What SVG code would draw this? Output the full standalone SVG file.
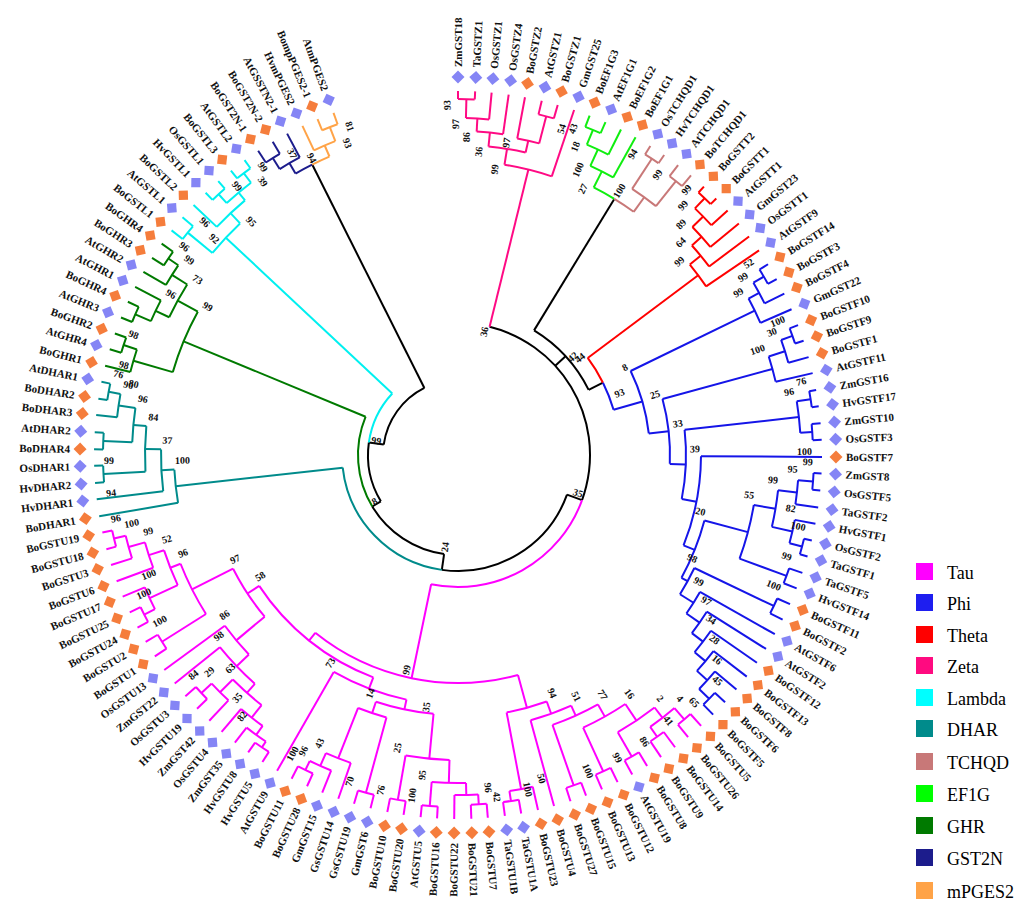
<svg xmlns="http://www.w3.org/2000/svg" xmlns:xlink="http://www.w3.org/1999/xlink" width="1024" height="915" viewBox="0 0 1024 915">
<style>
.c path,.c circle{fill:none;stroke-width:2}
.k{stroke:#000}.z{stroke:#FF0A84}.e{stroke:#10EE10}.t{stroke:#C87878}.h{stroke:#FF0000}.f{stroke:#1515E8}.u{stroke:#FF00FF}.d{stroke:#008B8B}.g{stroke:#007A00}.l{stroke:#00F0F0}.n{stroke:#1C1C8C}.m{stroke:#FFA347}
.p{fill:#8585F5}.o{fill:#F57D3C}
.lv text{font:bold 11px "Liberation Serif",serif;fill:#111;dominant-baseline:central}
.lv .r{text-anchor:end}
.s text{font:bold 10px "Liberation Serif",serif;fill:#111;dominant-baseline:central;text-anchor:end}
.s text.q{text-anchor:start}
.lg text{font:18px "Liberation Serif",serif;fill:#000}
</style>
<defs><rect id="mk" x="-4.6" y="-4.6" width="9.2" height="9.2" transform="rotate(45)"/></defs>
<rect width="1024" height="915" fill="#fff"/>
<g transform="translate(458,455)">
<g id="connectors" class="c">
<g class="k">
<circle r="132" pathLength="360" stroke-dasharray="96.15 400" transform="rotate(-76.15)"/>
<path d="M132 0H146" transform="rotate(-42.55)"/>
<circle r="146" pathLength="360" stroke-dasharray="32.1 400" transform="rotate(-58.6)"/>
<path d="M146 0H300" transform="rotate(-58.6)"/>
<path d="M146 0H162" transform="rotate(-26.5)"/>
<path d="M116 0H132" transform="rotate(20)"/>
<circle r="116" pathLength="360" stroke-dasharray="78 400" transform="rotate(20)"/>
<path d="M100 0H116" transform="rotate(98)"/>
<circle r="100" pathLength="360" stroke-dasharray="51 400" transform="rotate(98)"/>
<path d="M90 0H100" transform="rotate(149)"/>
<circle r="90" pathLength="360" stroke-dasharray="39 400" transform="rotate(149)"/>
<path d="M75 0H90" transform="rotate(188)"/>
<circle r="75" pathLength="360" stroke-dasharray="55.35 400" transform="rotate(188)"/>
<path d="M75 0H325" transform="rotate(243.35)"/>
</g>
<g class="z">
<path d="M132 0H294" transform="rotate(-76.15)"/>
<circle r="356" pathLength="360" stroke-dasharray="2.7 400" transform="rotate(-90)"/>
<path d="M356 0H364" transform="rotate(-90)"/><path d="M356 0H364" transform="rotate(-87.3)"/>
<circle r="337" pathLength="360" stroke-dasharray="3.95 400" transform="rotate(-88.65)"/>
<path d="M337 0H356" transform="rotate(-88.65)"/><path d="M337 0H364" transform="rotate(-84.7)"/>
<circle r="324" pathLength="360" stroke-dasharray="4.7 400" transform="rotate(-86.7)"/>
<path d="M324 0H337" transform="rotate(-86.7)"/><path d="M324 0H364" transform="rotate(-82)"/>
<circle r="350" pathLength="360" stroke-dasharray="2.6 400" transform="rotate(-76.7)"/>
<path d="M350 0H364" transform="rotate(-76.7)"/><path d="M350 0H364" transform="rotate(-74.1)"/>
<circle r="322" pathLength="360" stroke-dasharray="4 400" transform="rotate(-79.4)"/>
<path d="M322 0H364" transform="rotate(-79.4)"/><path d="M322 0H350" transform="rotate(-75.4)"/>
<circle r="310" pathLength="360" stroke-dasharray="6.95 400" transform="rotate(-84.35)"/>
<path d="M310 0H324" transform="rotate(-84.35)"/><path d="M310 0H322" transform="rotate(-77.4)"/>
<circle r="294" pathLength="360" stroke-dasharray="9.5 400" transform="rotate(-80.9)"/>
<path d="M294 0H310" transform="rotate(-80.9)"/><path d="M294 0H364" transform="rotate(-71.4)"/>
</g>
<g class="e">
<circle r="352" pathLength="360" stroke-dasharray="2.7 400" transform="rotate(-68.8)"/>
<path d="M352 0H364" transform="rotate(-68.8)"/><path d="M352 0H364" transform="rotate(-66.1)"/>
<circle r="336" pathLength="360" stroke-dasharray="4.05 400" transform="rotate(-67.45)"/>
<path d="M336 0H352" transform="rotate(-67.45)"/><path d="M336 0H364" transform="rotate(-63.4)"/>
<circle r="318" pathLength="360" stroke-dasharray="4.6 400" transform="rotate(-65.4)"/>
<path d="M318 0H336" transform="rotate(-65.4)"/><path d="M318 0H364" transform="rotate(-60.8)"/>
<circle r="300" pathLength="360" stroke-dasharray="4.5 400" transform="rotate(-63.1)"/>
<path d="M300 0H318" transform="rotate(-63.1)"/>
</g>
<g class="t">
<circle r="354" pathLength="360" stroke-dasharray="2.6 400" transform="rotate(-58.1)"/>
<path d="M354 0H364" transform="rotate(-58.1)"/><path d="M354 0H364" transform="rotate(-55.5)"/>
<circle r="350" pathLength="360" stroke-dasharray="2.6 400" transform="rotate(-52.8)"/>
<path d="M350 0H364" transform="rotate(-52.8)"/><path d="M350 0H364" transform="rotate(-50.2)"/>
<circle r="318" pathLength="360" stroke-dasharray="5.3 400" transform="rotate(-56.8)"/>
<path d="M318 0H354" transform="rotate(-56.8)"/><path d="M318 0H350" transform="rotate(-51.5)"/>
<circle r="300" pathLength="360" stroke-dasharray="4.45 400" transform="rotate(-58.6)"/>
<path d="M300 0H318" transform="rotate(-54.15)"/>
</g>
<g class="h">
<circle r="162" pathLength="360" stroke-dasharray="10.3 400" transform="rotate(-36.8)"/>
<path d="M162 0H300" transform="rotate(-36.8)"/>
<circle r="356" pathLength="360" stroke-dasharray="2.7 400" transform="rotate(-47.5)"/>
<path d="M356 0H364" transform="rotate(-47.5)"/><path d="M356 0H364" transform="rotate(-44.8)"/>
<circle r="342" pathLength="360" stroke-dasharray="3.95 400" transform="rotate(-46.15)"/>
<path d="M342 0H356" transform="rotate(-46.15)"/><path d="M342 0H364" transform="rotate(-42.2)"/>
<circle r="327" pathLength="360" stroke-dasharray="4.7 400" transform="rotate(-44.2)"/>
<path d="M327 0H342" transform="rotate(-44.2)"/><path d="M327 0H364" transform="rotate(-39.5)"/>
<circle r="314" pathLength="360" stroke-dasharray="4.95 400" transform="rotate(-41.85)"/>
<path d="M314 0H327" transform="rotate(-41.85)"/><path d="M314 0H364" transform="rotate(-36.9)"/>
<circle r="300" pathLength="360" stroke-dasharray="5.2 400" transform="rotate(-39.4)"/>
<path d="M300 0H314" transform="rotate(-39.4)"/><path d="M300 0H364" transform="rotate(-34.2)"/>
</g>
<g class="f">
<circle r="162" pathLength="360" stroke-dasharray="10.3 400" transform="rotate(-26.5)"/>
<path d="M162 0H192" transform="rotate(-16.2)"/>
<circle r="192" pathLength="360" stroke-dasharray="19.5 400" transform="rotate(-25.95)"/>
<path d="M192 0H330" transform="rotate(-25.95)"/><path d="M192 0H212" transform="rotate(-6.45)"/>
<circle r="212" pathLength="360" stroke-dasharray="17.7 400" transform="rotate(-15.3)"/>
<path d="M212 0H326" transform="rotate(-15.3)"/><path d="M212 0H228" transform="rotate(2.4)"/>
<circle r="228" pathLength="360" stroke-dasharray="17.45 400" transform="rotate(-6.35)"/>
<path d="M228 0H343" transform="rotate(-6.35)"/><path d="M228 0H243" transform="rotate(11.1)"/>
<circle r="243" pathLength="360" stroke-dasharray="21.55 400" transform="rotate(0.3)"/>
<path d="M243 0H364" transform="rotate(0.3)"/><path d="M243 0H255" transform="rotate(21.85)"/>
<circle r="255" pathLength="360" stroke-dasharray="13.9 400" transform="rotate(14.9)"/>
<path d="M255 0H300" transform="rotate(14.9)"/><path d="M255 0H262" transform="rotate(28.8)"/>
<circle r="354" pathLength="360" stroke-dasharray="2.7 400" transform="rotate(-31.6)"/>
<path d="M354 0H364" transform="rotate(-31.6)"/><path d="M354 0H364" transform="rotate(-28.9)"/>
<circle r="342" pathLength="360" stroke-dasharray="3.95 400" transform="rotate(-30.25)"/>
<path d="M342 0H354" transform="rotate(-30.25)"/><path d="M342 0H364" transform="rotate(-26.3)"/>
<circle r="330" pathLength="360" stroke-dasharray="4.7 400" transform="rotate(-28.3)"/>
<path d="M330 0H342" transform="rotate(-28.3)"/><path d="M330 0H364" transform="rotate(-23.6)"/>
<circle r="355" pathLength="360" stroke-dasharray="2.6 400" transform="rotate(-20.9)"/>
<path d="M355 0H364" transform="rotate(-20.9)"/><path d="M355 0H364" transform="rotate(-18.3)"/>
<circle r="343" pathLength="360" stroke-dasharray="4 400" transform="rotate(-19.6)"/>
<path d="M343 0H355" transform="rotate(-19.6)"/><path d="M343 0H364" transform="rotate(-15.6)"/>
<circle r="326" pathLength="360" stroke-dasharray="4.6 400" transform="rotate(-17.6)"/>
<path d="M326 0H343" transform="rotate(-17.6)"/><path d="M326 0H364" transform="rotate(-13)"/>
<circle r="357" pathLength="360" stroke-dasharray="2.6 400" transform="rotate(-10.3)"/>
<path d="M357 0H364" transform="rotate(-10.3)"/><path d="M357 0H364" transform="rotate(-7.7)"/>
<circle r="355" pathLength="360" stroke-dasharray="2.6 400" transform="rotate(-5)"/>
<path d="M355 0H364" transform="rotate(-5)"/><path d="M355 0H364" transform="rotate(-2.4)"/>
<circle r="343" pathLength="360" stroke-dasharray="5.3 400" transform="rotate(-9)"/>
<path d="M343 0H357" transform="rotate(-9)"/><path d="M343 0H355" transform="rotate(-3.7)"/>
<circle r="356" pathLength="360" stroke-dasharray="2.7 400" transform="rotate(2.9)"/>
<path d="M356 0H364" transform="rotate(2.9)"/><path d="M356 0H364" transform="rotate(5.6)"/>
<circle r="341" pathLength="360" stroke-dasharray="4.05 400" transform="rotate(4.25)"/>
<path d="M341 0H356" transform="rotate(4.25)"/><path d="M341 0H364" transform="rotate(8.3)"/>
<circle r="356" pathLength="360" stroke-dasharray="2.6 400" transform="rotate(13.6)"/>
<path d="M356 0H364" transform="rotate(13.6)"/><path d="M356 0H364" transform="rotate(16.2)"/>
<circle r="343" pathLength="360" stroke-dasharray="4 400" transform="rotate(10.9)"/>
<path d="M343 0H364" transform="rotate(10.9)"/><path d="M343 0H356" transform="rotate(14.9)"/>
<circle r="322" pathLength="360" stroke-dasharray="6.6 400" transform="rotate(6.3)"/>
<path d="M322 0H341" transform="rotate(6.3)"/><path d="M322 0H343" transform="rotate(12.9)"/>
<circle r="350" pathLength="360" stroke-dasharray="2.6 400" transform="rotate(18.9)"/>
<path d="M350 0H364" transform="rotate(18.9)"/><path d="M350 0H364" transform="rotate(21.5)"/>
<circle r="300" pathLength="360" stroke-dasharray="10.6 400" transform="rotate(9.6)"/>
<path d="M300 0H322" transform="rotate(9.6)"/><path d="M300 0H350" transform="rotate(20.2)"/>
<circle r="350" pathLength="360" stroke-dasharray="2.7 400" transform="rotate(24.2)"/>
<path d="M350 0H364" transform="rotate(24.2)"/><path d="M350 0H364" transform="rotate(26.9)"/>
<circle r="350" pathLength="360" stroke-dasharray="2.7 400" transform="rotate(42.8)"/>
<path d="M350 0H364" transform="rotate(42.8)"/><path d="M350 0H364" transform="rotate(45.5)"/>
<circle r="336" pathLength="360" stroke-dasharray="4.05 400" transform="rotate(40.1)"/>
<path d="M336 0H364" transform="rotate(40.1)"/><path d="M336 0H350" transform="rotate(44.15)"/>
<circle r="322" pathLength="360" stroke-dasharray="4.6 400" transform="rotate(37.5)"/>
<path d="M322 0H364" transform="rotate(37.5)"/><path d="M322 0H336" transform="rotate(42.1)"/>
<circle r="308" pathLength="360" stroke-dasharray="5 400" transform="rotate(34.8)"/>
<path d="M308 0H364" transform="rotate(34.8)"/><path d="M308 0H322" transform="rotate(39.8)"/>
<circle r="294" pathLength="360" stroke-dasharray="5.1 400" transform="rotate(32.2)"/>
<path d="M294 0H364" transform="rotate(32.2)"/><path d="M294 0H308" transform="rotate(37.3)"/>
<circle r="278" pathLength="360" stroke-dasharray="5.25 400" transform="rotate(29.5)"/>
<path d="M278 0H364" transform="rotate(29.5)"/><path d="M278 0H294" transform="rotate(34.75)"/>
<circle r="262" pathLength="360" stroke-dasharray="6.55 400" transform="rotate(25.55)"/>
<path d="M262 0H350" transform="rotate(25.55)"/><path d="M262 0H278" transform="rotate(32.1)"/>
</g>
<g class="u">
<circle r="132" pathLength="360" stroke-dasharray="81.75 400" transform="rotate(20)"/>
<path d="M132 0H228" transform="rotate(101.75)"/>
<circle r="228" pathLength="360" stroke-dasharray="54 400" transform="rotate(74.75)"/>
<path d="M228 0H262" transform="rotate(74.75)"/><path d="M228 0H238" transform="rotate(128.75)"/>
<circle r="348" pathLength="360" stroke-dasharray="2.7 400" transform="rotate(48.1)"/>
<path d="M348 0H364" transform="rotate(48.1)"/><path d="M348 0H364" transform="rotate(50.8)"/>
<circle r="345" pathLength="360" stroke-dasharray="2.7 400" transform="rotate(53.4)"/>
<path d="M345 0H364" transform="rotate(53.4)"/><path d="M345 0H364" transform="rotate(56.1)"/>
<circle r="333" pathLength="360" stroke-dasharray="5.3 400" transform="rotate(49.45)"/>
<path d="M333 0H348" transform="rotate(49.45)"/><path d="M333 0H345" transform="rotate(54.75)"/>
<circle r="348" pathLength="360" stroke-dasharray="2.7 400" transform="rotate(58.7)"/>
<path d="M348 0H364" transform="rotate(58.7)"/><path d="M348 0H364" transform="rotate(61.4)"/>
<circle r="320" pathLength="360" stroke-dasharray="7.95 400" transform="rotate(52.1)"/>
<path d="M320 0H333" transform="rotate(52.1)"/><path d="M320 0H348" transform="rotate(60.05)"/>
<circle r="348" pathLength="360" stroke-dasharray="2.7 400" transform="rotate(64)"/>
<path d="M348 0H364" transform="rotate(64)"/><path d="M348 0H364" transform="rotate(66.7)"/>
<circle r="300" pathLength="360" stroke-dasharray="9.25 400" transform="rotate(56.1)"/>
<path d="M300 0H320" transform="rotate(56.1)"/><path d="M300 0H348" transform="rotate(65.35)"/>
<circle r="350" pathLength="360" stroke-dasharray="2.6 400" transform="rotate(69.4)"/>
<path d="M350 0H364" transform="rotate(69.4)"/><path d="M350 0H364" transform="rotate(72)"/>
<circle r="286" pathLength="360" stroke-dasharray="10 400" transform="rotate(60.7)"/>
<path d="M286 0H300" transform="rotate(60.7)"/><path d="M286 0H350" transform="rotate(70.7)"/>
<circle r="275" pathLength="360" stroke-dasharray="9 400" transform="rotate(65.7)"/>
<path d="M275 0H286" transform="rotate(65.7)"/><path d="M275 0H364" transform="rotate(74.7)"/>
<circle r="350" pathLength="360" stroke-dasharray="2.6 400" transform="rotate(80)"/>
<path d="M350 0H364" transform="rotate(80)"/><path d="M350 0H364" transform="rotate(82.6)"/>
<circle r="340" pathLength="360" stroke-dasharray="4 400" transform="rotate(77.3)"/>
<path d="M340 0H364" transform="rotate(77.3)"/><path d="M340 0H350" transform="rotate(81.3)"/>
<circle r="262" pathLength="360" stroke-dasharray="9.1 400" transform="rotate(70.2)"/>
<path d="M262 0H275" transform="rotate(70.2)"/><path d="M262 0H340" transform="rotate(79.3)"/>
<circle r="350" pathLength="360" stroke-dasharray="2.6 400" transform="rotate(85.3)"/>
<path d="M350 0H364" transform="rotate(85.3)"/><path d="M350 0H364" transform="rotate(87.9)"/>
<circle r="340" pathLength="360" stroke-dasharray="4 400" transform="rotate(86.6)"/>
<path d="M340 0H350" transform="rotate(86.6)"/><path d="M340 0H364" transform="rotate(90.6)"/>
<circle r="352" pathLength="360" stroke-dasharray="2.6 400" transform="rotate(93.3)"/>
<path d="M352 0H364" transform="rotate(93.3)"/><path d="M352 0H364" transform="rotate(95.9)"/>
<circle r="328" pathLength="360" stroke-dasharray="6 400" transform="rotate(88.6)"/>
<path d="M328 0H340" transform="rotate(88.6)"/><path d="M328 0H352" transform="rotate(94.6)"/>
<circle r="350" pathLength="360" stroke-dasharray="2.6 400" transform="rotate(98.6)"/>
<path d="M350 0H364" transform="rotate(98.6)"/><path d="M350 0H364" transform="rotate(101.2)"/>
<circle r="305" pathLength="360" stroke-dasharray="8.3 400" transform="rotate(91.6)"/>
<path d="M305 0H328" transform="rotate(91.6)"/><path d="M305 0H350" transform="rotate(99.9)"/>
<circle r="350" pathLength="360" stroke-dasharray="2.7 400" transform="rotate(103.9)"/>
<path d="M350 0H364" transform="rotate(103.9)"/><path d="M350 0H364" transform="rotate(106.6)"/>
<circle r="350" pathLength="360" stroke-dasharray="2.7 400" transform="rotate(114.5)"/>
<path d="M350 0H364" transform="rotate(114.5)"/><path d="M350 0H364" transform="rotate(117.2)"/>
<circle r="340" pathLength="360" stroke-dasharray="3.95 400" transform="rotate(111.9)"/>
<path d="M340 0H364" transform="rotate(111.9)"/><path d="M340 0H350" transform="rotate(115.85)"/>
<circle r="326" pathLength="360" stroke-dasharray="4.7 400" transform="rotate(109.2)"/>
<path d="M326 0H364" transform="rotate(109.2)"/><path d="M326 0H340" transform="rotate(113.9)"/>
<circle r="272" pathLength="360" stroke-dasharray="6.3 400" transform="rotate(105.25)"/>
<path d="M272 0H350" transform="rotate(105.25)"/><path d="M272 0H326" transform="rotate(111.55)"/>
<circle r="260" pathLength="360" stroke-dasharray="13 400" transform="rotate(95.4)"/>
<path d="M260 0H305" transform="rotate(95.4)"/><path d="M260 0H272" transform="rotate(108.4)"/>
<circle r="250" pathLength="360" stroke-dasharray="17.9 400" transform="rotate(101.9)"/>
<path d="M250 0H260" transform="rotate(101.9)"/><path d="M250 0H364" transform="rotate(119.8)"/>
<circle r="350" pathLength="360" stroke-dasharray="2.7 400" transform="rotate(135.8)"/>
<path d="M350 0H364" transform="rotate(135.8)"/><path d="M350 0H364" transform="rotate(138.5)"/>
<circle r="336" pathLength="360" stroke-dasharray="4.05 400" transform="rotate(133.1)"/>
<path d="M336 0H364" transform="rotate(133.1)"/><path d="M336 0H350" transform="rotate(137.15)"/>
<circle r="352" pathLength="360" stroke-dasharray="2.7 400" transform="rotate(122.5)"/>
<path d="M352 0H364" transform="rotate(122.5)"/><path d="M352 0H364" transform="rotate(125.2)"/>
<circle r="345" pathLength="360" stroke-dasharray="3.95 400" transform="rotate(123.85)"/>
<path d="M345 0H352" transform="rotate(123.85)"/><path d="M345 0H364" transform="rotate(127.8)"/>
<circle r="334" pathLength="360" stroke-dasharray="4.7 400" transform="rotate(125.8)"/>
<path d="M334 0H345" transform="rotate(125.8)"/><path d="M334 0H364" transform="rotate(130.5)"/>
<circle r="318" pathLength="360" stroke-dasharray="6.95 400" transform="rotate(128.15)"/>
<path d="M318 0H334" transform="rotate(128.15)"/><path d="M318 0H336" transform="rotate(135.1)"/>
<circle r="306" pathLength="360" stroke-dasharray="9.5 400" transform="rotate(131.6)"/>
<path d="M306 0H318" transform="rotate(131.6)"/><path d="M306 0H364" transform="rotate(141.1)"/>
<circle r="289" pathLength="360" stroke-dasharray="7.45 400" transform="rotate(136.35)"/>
<path d="M289 0H306" transform="rotate(136.35)"/><path d="M289 0H364" transform="rotate(143.8)"/>
<circle r="350" pathLength="360" stroke-dasharray="2.7 400" transform="rotate(146.4)"/>
<path d="M350 0H364" transform="rotate(146.4)"/><path d="M350 0H364" transform="rotate(149.1)"/>
<circle r="352" pathLength="360" stroke-dasharray="2.7 400" transform="rotate(151.7)"/>
<path d="M352 0H364" transform="rotate(151.7)"/><path d="M352 0H364" transform="rotate(154.4)"/>
<circle r="340" pathLength="360" stroke-dasharray="4.05 400" transform="rotate(153.05)"/>
<path d="M340 0H352" transform="rotate(153.05)"/><path d="M340 0H364" transform="rotate(157.1)"/>
<circle r="354" pathLength="360" stroke-dasharray="2.7 400" transform="rotate(165)"/>
<path d="M354 0H364" transform="rotate(165)"/><path d="M354 0H364" transform="rotate(167.7)"/>
<circle r="342" pathLength="360" stroke-dasharray="3.95 400" transform="rotate(162.4)"/>
<path d="M342 0H364" transform="rotate(162.4)"/><path d="M342 0H354" transform="rotate(166.35)"/>
<circle r="325" pathLength="360" stroke-dasharray="4.7 400" transform="rotate(159.7)"/>
<path d="M325 0H364" transform="rotate(159.7)"/><path d="M325 0H342" transform="rotate(164.4)"/>
<circle r="309" pathLength="360" stroke-dasharray="6.95 400" transform="rotate(155.1)"/>
<path d="M309 0H340" transform="rotate(155.1)"/><path d="M309 0H325" transform="rotate(162.05)"/>
<circle r="298" pathLength="360" stroke-dasharray="10.85 400" transform="rotate(147.75)"/>
<path d="M298 0H350" transform="rotate(147.75)"/><path d="M298 0H309" transform="rotate(158.6)"/>
<circle r="252" pathLength="360" stroke-dasharray="13.1 400" transform="rotate(140.1)"/>
<path d="M252 0H289" transform="rotate(140.1)"/><path d="M252 0H298" transform="rotate(153.2)"/>
<circle r="238" pathLength="360" stroke-dasharray="35.8 400" transform="rotate(110.85)"/>
<path d="M238 0H250" transform="rotate(110.85)"/><path d="M238 0H252" transform="rotate(146.65)"/>
</g>
<g class="d">
<circle r="116" pathLength="360" stroke-dasharray="75.7 400" transform="rotate(98)"/>
<path d="M116 0H284" transform="rotate(173.7)"/>
<circle r="355" pathLength="360" stroke-dasharray="2.7 400" transform="rotate(188.9)"/>
<path d="M355 0H364" transform="rotate(188.9)"/><path d="M355 0H364" transform="rotate(191.6)"/>
<circle r="343" pathLength="360" stroke-dasharray="3.95 400" transform="rotate(186.3)"/>
<path d="M343 0H364" transform="rotate(186.3)"/><path d="M343 0H355" transform="rotate(190.25)"/>
<circle r="355" pathLength="360" stroke-dasharray="2.7 400" transform="rotate(180.9)"/>
<path d="M355 0H364" transform="rotate(180.9)"/><path d="M355 0H364" transform="rotate(183.6)"/>
<circle r="326" pathLength="360" stroke-dasharray="6.05 400" transform="rotate(182.25)"/>
<path d="M326 0H355" transform="rotate(182.25)"/><path d="M326 0H343" transform="rotate(188.3)"/>
<circle r="355" pathLength="360" stroke-dasharray="2.7 400" transform="rotate(175.6)"/>
<path d="M355 0H364" transform="rotate(175.6)"/><path d="M355 0H364" transform="rotate(178.3)"/>
<circle r="313" pathLength="360" stroke-dasharray="8.35 400" transform="rotate(176.95)"/>
<path d="M313 0H355" transform="rotate(176.95)"/><path d="M313 0H326" transform="rotate(185.3)"/>
<circle r="297" pathLength="360" stroke-dasharray="8.1 400" transform="rotate(173)"/>
<path d="M297 0H364" transform="rotate(173)"/><path d="M297 0H313" transform="rotate(181.1)"/>
<circle r="284" pathLength="360" stroke-dasharray="6.75 400" transform="rotate(170.3)"/>
<path d="M284 0H364" transform="rotate(170.3)"/><path d="M284 0H297" transform="rotate(177.05)"/>
</g>
<g class="g">
<circle r="100" pathLength="360" stroke-dasharray="53.5 400" transform="rotate(149)"/>
<path d="M100 0H297" transform="rotate(202.5)"/>
<circle r="350" pathLength="360" stroke-dasharray="2.7 400" transform="rotate(212.8)"/>
<path d="M350 0H364" transform="rotate(212.8)"/><path d="M350 0H364" transform="rotate(215.5)"/>
<circle r="338" pathLength="360" stroke-dasharray="3.95 400" transform="rotate(210.2)"/>
<path d="M338 0H364" transform="rotate(210.2)"/><path d="M338 0H350" transform="rotate(214.15)"/>
<circle r="352" pathLength="360" stroke-dasharray="2.7 400" transform="rotate(202.2)"/>
<path d="M352 0H364" transform="rotate(202.2)"/><path d="M352 0H364" transform="rotate(204.9)"/>
<circle r="335" pathLength="360" stroke-dasharray="3.95 400" transform="rotate(203.55)"/>
<path d="M335 0H352" transform="rotate(203.55)"/><path d="M335 0H364" transform="rotate(207.5)"/>
<circle r="320" pathLength="360" stroke-dasharray="6.7 400" transform="rotate(205.5)"/>
<path d="M320 0H335" transform="rotate(205.5)"/><path d="M320 0H338" transform="rotate(212.2)"/>
<circle r="352" pathLength="360" stroke-dasharray="2.6 400" transform="rotate(196.9)"/>
<path d="M352 0H364" transform="rotate(196.9)"/><path d="M352 0H364" transform="rotate(199.5)"/>
<circle r="338" pathLength="360" stroke-dasharray="4 400" transform="rotate(194.2)"/>
<path d="M338 0H364" transform="rotate(194.2)"/><path d="M338 0H352" transform="rotate(198.2)"/>
<circle r="297" pathLength="360" stroke-dasharray="12.65 400" transform="rotate(196.2)"/>
<path d="M297 0H338" transform="rotate(196.2)"/><path d="M297 0H320" transform="rotate(208.85)"/>
</g>
<g class="l">
<circle r="90" pathLength="360" stroke-dasharray="35.1 400" transform="rotate(188)"/>
<path d="M90 0H318" transform="rotate(223.1)"/>
<circle r="350" pathLength="360" stroke-dasharray="2.7 400" transform="rotate(218.1)"/>
<path d="M350 0H364" transform="rotate(218.1)"/><path d="M350 0H364" transform="rotate(220.8)"/>
<circle r="354" pathLength="360" stroke-dasharray="2.7 400" transform="rotate(226.1)"/>
<path d="M354 0H364" transform="rotate(226.1)"/><path d="M354 0H364" transform="rotate(228.8)"/>
<circle r="354" pathLength="360" stroke-dasharray="2.7 400" transform="rotate(231.4)"/>
<path d="M354 0H364" transform="rotate(231.4)"/><path d="M354 0H364" transform="rotate(234.1)"/>
<circle r="342" pathLength="360" stroke-dasharray="5.3 400" transform="rotate(227.45)"/>
<path d="M342 0H354" transform="rotate(227.45)"/><path d="M342 0H354" transform="rotate(232.75)"/>
<circle r="332" pathLength="360" stroke-dasharray="6.7 400" transform="rotate(223.4)"/>
<path d="M332 0H364" transform="rotate(223.4)"/><path d="M332 0H342" transform="rotate(230.1)"/>
<circle r="318" pathLength="360" stroke-dasharray="7.3 400" transform="rotate(219.45)"/>
<path d="M318 0H350" transform="rotate(219.45)"/><path d="M318 0H332" transform="rotate(226.75)"/>
</g>
<g class="n">
<circle r="325" pathLength="360" stroke-dasharray="3.35 400" transform="rotate(240)"/>
<path d="M325 0H337" transform="rotate(240)"/>
<circle r="350" pathLength="360" stroke-dasharray="2.7 400" transform="rotate(236.7)"/>
<path d="M350 0H364" transform="rotate(236.7)"/><path d="M350 0H364" transform="rotate(239.4)"/>
<circle r="337" pathLength="360" stroke-dasharray="3.95 400" transform="rotate(238.05)"/>
<path d="M337 0H350" transform="rotate(238.05)"/><path d="M337 0H364" transform="rotate(242)"/>
</g>
<g class="m">
<circle r="325" pathLength="360" stroke-dasharray="3.35 400" transform="rotate(243.35)"/>
<path d="M325 0H337" transform="rotate(246.7)"/>
<circle r="352" pathLength="360" stroke-dasharray="2.7 400" transform="rotate(247.3)"/>
<path d="M352 0H364" transform="rotate(247.3)"/><path d="M352 0H364" transform="rotate(250)"/>
<circle r="337" pathLength="360" stroke-dasharray="3.95 400" transform="rotate(244.7)"/>
<path d="M337 0H364" transform="rotate(244.7)"/><path d="M337 0H352" transform="rotate(248.65)"/>
</g>
</g>
<g id="support" class="s">
<text transform="rotate(-91.8)" x="355">93</text><text transform="rotate(-90.45)" x="336">97</text><text transform="rotate(-88.5)" x="323">86</text><text transform="rotate(-72.4)" x="349" class="q" dx="-12">54</text><text transform="rotate(-81.2)" x="321">97</text><text transform="rotate(-86.1)" x="309">36</text><text transform="rotate(-82.7)" x="293">99</text>
<text transform="rotate(-70.6)" x="351">43</text><text transform="rotate(-69.2)" x="335">18</text><text transform="rotate(-67.2)" x="317">100</text><text transform="rotate(-64.9)" x="299">27</text>
<text transform="rotate(-59.9)" x="353">94</text><text transform="rotate(-54.6)" x="349">99</text><text transform="rotate(-58.6)" x="317">100</text>
<text transform="rotate(-49.3)" x="355">99</text><text transform="rotate(-48)" x="341">99</text><text transform="rotate(-46)" x="326">89</text><text transform="rotate(-43.7)" x="313">64</text><text transform="rotate(-41.2)" x="299">99</text>
<text transform="rotate(-33.4)" x="353">52</text><text transform="rotate(-32)" x="341">99</text><text transform="rotate(-30.1)" x="329">99</text>
<text transform="rotate(-22.7)" x="354">100</text><text transform="rotate(-21.4)" x="342">30</text><text transform="rotate(-19.4)" x="325">100</text>
<text transform="rotate(-12.1)" x="356">76</text><text transform="rotate(-0.6)" x="354">100</text><text transform="rotate(-10.8)" x="342">96</text>
<text transform="rotate(1.1)" x="355">99</text><text transform="rotate(2.4)" x="340">95</text><text transform="rotate(11.8)" x="355">100</text><text transform="rotate(9.1)" x="342">82</text><text transform="rotate(4.5)" x="321">99</text><text transform="rotate(17.1)" x="349">99</text><text transform="rotate(7.8)" x="299">55</text>
<text transform="rotate(22.4)" x="349">100</text><text transform="rotate(41)" x="349">45</text><text transform="rotate(38.3)" x="335">16</text><text transform="rotate(35.7)" x="321">28</text><text transform="rotate(33)" x="307">34</text><text transform="rotate(30.4)" x="293">97</text><text transform="rotate(27.7)" x="277">99</text><text transform="rotate(23.75)" x="261">98</text>
<text transform="rotate(13.1)" x="254">20</text><text transform="rotate(-1.5)" x="242">39</text><text transform="rotate(-8.15)" x="227">33</text><text transform="rotate(-17.1)" x="211">25</text><text transform="rotate(-27.75)" x="191">8</text><text transform="rotate(-21)" x="178">93</text><text transform="rotate(-38.6)" x="161">44</text><text transform="rotate(-40.5)" x="156">42</text><text transform="rotate(-78)" x="131">36</text><text transform="rotate(17.5)" x="131">35</text>
<text transform="rotate(46.3)" x="347">65</text><text transform="rotate(51.6)" x="344">41</text><text transform="rotate(47.65)" x="332">4</text><text transform="rotate(56.9)" x="347">86</text><text transform="rotate(50.3)" x="319">2</text><text transform="rotate(62.2)" x="347">99</text><text transform="rotate(54.3)" x="299">16</text><text transform="rotate(67.6)" x="349">100</text><text transform="rotate(58.9)" x="285">77</text><text transform="rotate(63.9)" x="274">51</text><text transform="rotate(78.2)" x="349">100</text><text transform="rotate(75.5)" x="339">50</text><text transform="rotate(68.4)" x="261">94</text><text transform="rotate(83.5)" x="349">42</text><text transform="rotate(84.8)" x="339">96</text>
<text transform="rotate(-82.3)" x="-351" class="q">100</text><text transform="rotate(-83.6)" x="-327" class="q">95</text><text transform="rotate(-77)" x="-349" class="q">76</text><text transform="rotate(-78.3)" x="-304" class="q">25</text><text transform="rotate(-82.8)" x="-259" class="q">35</text>
<text transform="rotate(-71.6)" x="-349" class="q">70</text><text transform="rotate(-61)" x="-349" class="q">100</text><text transform="rotate(-62.4)" x="-339" class="q">96</text><text transform="rotate(-64.3)" x="-325" class="q">43</text><text transform="rotate(-69.8)" x="-259" class="q">14</text><text transform="rotate(-58.4)" x="-249" class="q">73</text>
<text transform="rotate(-39.7)" x="-349" class="q">84</text><text transform="rotate(-41.05)" x="-335" class="q">29</text><text transform="rotate(-50.4)" x="-344" class="q">82</text><text transform="rotate(-47.7)" x="-333" class="q">35</text><text transform="rotate(-43.1)" x="-317" class="q">63</text><text transform="rotate(-37.1)" x="-305" class="q">98</text><text transform="rotate(-34.4)" x="-288" class="q">86</text>
<text transform="rotate(-29.1)" x="-349" class="q">100</text><text transform="rotate(-23.8)" x="-351" class="q">100</text><text transform="rotate(-21.1)" x="-339" class="q">100</text><text transform="rotate(-10.5)" x="-353" class="q">96</text><text transform="rotate(-11.8)" x="-341" class="q">100</text><text transform="rotate(-13.8)" x="-324" class="q">99</text><text transform="rotate(-16.1)" x="-308" class="q">52</text><text transform="rotate(-19.6)" x="-297" class="q">96</text><text transform="rotate(-25)" x="-251" class="q">97</text><text transform="rotate(-31.5)" x="-237" class="q">58</text><text transform="rotate(-76.5)" x="-226" class="q">99</text>
<text transform="rotate(13.4)" x="-354" class="q">76</text><text transform="rotate(12)" x="-342" class="q">90</text><text transform="rotate(-0.9)" x="-354" class="q">99</text><text transform="rotate(10.1)" x="-325" class="q">96</text><text transform="rotate(-6.2)" x="-354" class="q">94</text><text transform="rotate(7.1)" x="-312" class="q">84</text><text transform="rotate(2.9)" x="-296" class="q">37</text><text transform="rotate(-1.1)" x="-283" class="q">100</text>
<text transform="rotate(37.3)" x="-349" class="q">96</text><text transform="rotate(36)" x="-337" class="q">99</text><text transform="rotate(20.4)" x="-351" class="q">98</text><text transform="rotate(29.3)" x="-334" class="q">96</text><text transform="rotate(34)" x="-319" class="q">73</text><text transform="rotate(15.1)" x="-351" class="q">98</text><text transform="rotate(12.4)" x="-337" class="q">80</text><text transform="rotate(30.7)" x="-296" class="q">99</text>
<text transform="rotate(42.6)" x="-349" class="q">96</text><text transform="rotate(50.6)" x="-353" class="q">99</text><text transform="rotate(55.9)" x="-353" class="q">99</text><text transform="rotate(54.5)" x="-341" class="q">39</text><text transform="rotate(41.6)" x="-331" class="q">92</text><text transform="rotate(48.5)" x="-317" class="q">95</text>
<text transform="rotate(61.2)" x="-349" class="q">37</text><text transform="rotate(63.8)" x="-336" class="q">94</text><text transform="rotate(71.8)" x="-351" class="q">81</text><text transform="rotate(70.5)" x="-336" class="q">93</text>
<text transform="rotate(-82)" x="-98" class="q">24</text><text transform="rotate(-29)" x="-98" class="q">8</text><text transform="rotate(10)" x="-88" class="q">99</text>
</g>
<g id="leaves" class="lv">
<g id="ZmGST18" transform="rotate(-90)"><use href="#mk" x="378" class="p"/><text x="388">ZmGST18</text></g>
<g id="TaGSTZ1" transform="rotate(-87.3)"><use href="#mk" x="378" class="p"/><text x="388">TaGSTZ1</text></g>
<g id="OsGSTZ1" transform="rotate(-84.7)"><use href="#mk" x="378" class="p"/><text x="388">OsGSTZ1</text></g>
<g id="OsGSTZ4" transform="rotate(-82)"><use href="#mk" x="378" class="p"/><text x="388">OsGSTZ4</text></g>
<g id="BoGSTZ2" transform="rotate(-79.4)"><use href="#mk" x="378" class="o"/><text x="388">BoGSTZ2</text></g>
<g id="AtGSTZ1" transform="rotate(-76.7)"><use href="#mk" x="378" class="p"/><text x="388">AtGSTZ1</text></g>
<g id="BoGSTZ1" transform="rotate(-74.1)"><use href="#mk" x="378" class="o"/><text x="388">BoGSTZ1</text></g>
<g id="GmGST25" transform="rotate(-71.4)"><use href="#mk" x="378" class="p"/><text x="388">GmGST25</text></g>
<g id="BoEF1G3" transform="rotate(-68.8)"><use href="#mk" x="378" class="o"/><text x="388">BoEF1G3</text></g>
<g id="AtEF1G1" transform="rotate(-66.1)"><use href="#mk" x="378" class="p"/><text x="388">AtEF1G1</text></g>
<g id="BoEF1G2" transform="rotate(-63.4)"><use href="#mk" x="378" class="o"/><text x="388">BoEF1G2</text></g>
<g id="BoEF1G1" transform="rotate(-60.8)"><use href="#mk" x="378" class="o"/><text x="388">BoEF1G1</text></g>
<g id="OsTCHQD1" transform="rotate(-58.1)"><use href="#mk" x="378" class="p"/><text x="388">OsTCHQD1</text></g>
<g id="HvTCHQD1" transform="rotate(-55.5)"><use href="#mk" x="378" class="p"/><text x="388">HvTCHQD1</text></g>
<g id="AtTCHQD1" transform="rotate(-52.8)"><use href="#mk" x="378" class="p"/><text x="388">AtTCHQD1</text></g>
<g id="BoTCHQD1" transform="rotate(-50.2)"><use href="#mk" x="378" class="o"/><text x="388">BoTCHQD1</text></g>
<g id="BoGSTT2" transform="rotate(-47.5)"><use href="#mk" x="378" class="o"/><text x="388">BoGSTT2</text></g>
<g id="BoGSTT1" transform="rotate(-44.8)"><use href="#mk" x="378" class="o"/><text x="388">BoGSTT1</text></g>
<g id="AtGSTT1" transform="rotate(-42.2)"><use href="#mk" x="378" class="p"/><text x="388">AtGSTT1</text></g>
<g id="GmGST23" transform="rotate(-39.5)"><use href="#mk" x="378" class="p"/><text x="388">GmGST23</text></g>
<g id="OsGSTT1" transform="rotate(-36.9)"><use href="#mk" x="378" class="p"/><text x="388">OsGSTT1</text></g>
<g id="AtGSTF9" transform="rotate(-34.2)"><use href="#mk" x="378" class="p"/><text x="388">AtGSTF9</text></g>
<g id="BoGSTF14" transform="rotate(-31.6)"><use href="#mk" x="378" class="o"/><text x="388">BoGSTF14</text></g>
<g id="BoGSTF3" transform="rotate(-28.9)"><use href="#mk" x="378" class="o"/><text x="388">BoGSTF3</text></g>
<g id="BoGSTF4" transform="rotate(-26.3)"><use href="#mk" x="378" class="o"/><text x="388">BoGSTF4</text></g>
<g id="GmGST22" transform="rotate(-23.6)"><use href="#mk" x="378" class="p"/><text x="388">GmGST22</text></g>
<g id="BoGSTF10" transform="rotate(-20.9)"><use href="#mk" x="378" class="o"/><text x="388">BoGSTF10</text></g>
<g id="BoGSTF9" transform="rotate(-18.3)"><use href="#mk" x="378" class="o"/><text x="388">BoGSTF9</text></g>
<g id="BoGSTF1" transform="rotate(-15.6)"><use href="#mk" x="378" class="o"/><text x="388">BoGSTF1</text></g>
<g id="AtGSTF11" transform="rotate(-13)"><use href="#mk" x="378" class="p"/><text x="388">AtGSTF11</text></g>
<g id="ZmGST16" transform="rotate(-10.3)"><use href="#mk" x="378" class="p"/><text x="388">ZmGST16</text></g>
<g id="HvGSTF17" transform="rotate(-7.7)"><use href="#mk" x="378" class="p"/><text x="388">HvGSTF17</text></g>
<g id="ZmGST10" transform="rotate(-5)"><use href="#mk" x="378" class="p"/><text x="388">ZmGST10</text></g>
<g id="OsGSTF3" transform="rotate(-2.4)"><use href="#mk" x="378" class="p"/><text x="388">OsGSTF3</text></g>
<g id="BoGSTF7" transform="rotate(0.3)"><use href="#mk" x="378" class="o"/><text x="388">BoGSTF7</text></g>
<g id="ZmGST8" transform="rotate(2.9)"><use href="#mk" x="378" class="p"/><text x="388">ZmGST8</text></g>
<g id="OsGSTF5" transform="rotate(5.6)"><use href="#mk" x="378" class="p"/><text x="388">OsGSTF5</text></g>
<g id="TaGSTF2" transform="rotate(8.3)"><use href="#mk" x="378" class="p"/><text x="388">TaGSTF2</text></g>
<g id="HvGSTF1" transform="rotate(10.9)"><use href="#mk" x="378" class="p"/><text x="388">HvGSTF1</text></g>
<g id="OsGSTF2" transform="rotate(13.6)"><use href="#mk" x="378" class="p"/><text x="388">OsGSTF2</text></g>
<g id="TaGSTF1" transform="rotate(16.2)"><use href="#mk" x="378" class="p"/><text x="388">TaGSTF1</text></g>
<g id="TaGSTF5" transform="rotate(18.9)"><use href="#mk" x="378" class="p"/><text x="388">TaGSTF5</text></g>
<g id="HvGSTF14" transform="rotate(21.5)"><use href="#mk" x="378" class="p"/><text x="388">HvGSTF14</text></g>
<g id="BoGSTF11" transform="rotate(24.2)"><use href="#mk" x="378" class="o"/><text x="388">BoGSTF11</text></g>
<g id="BoGSTF2" transform="rotate(26.9)"><use href="#mk" x="378" class="o"/><text x="388">BoGSTF2</text></g>
<g id="AtGSTF6" transform="rotate(29.5)"><use href="#mk" x="378" class="p"/><text x="388">AtGSTF6</text></g>
<g id="AtGSTF2" transform="rotate(32.2)"><use href="#mk" x="378" class="p"/><text x="388">AtGSTF2</text></g>
<g id="BoGSTF12" transform="rotate(34.8)"><use href="#mk" x="378" class="o"/><text x="388">BoGSTF12</text></g>
<g id="BoGSTF13" transform="rotate(37.5)"><use href="#mk" x="378" class="o"/><text x="388">BoGSTF13</text></g>
<g id="BoGSTF8" transform="rotate(40.1)"><use href="#mk" x="378" class="o"/><text x="388">BoGSTF8</text></g>
<g id="BoGSTF6" transform="rotate(42.8)"><use href="#mk" x="378" class="o"/><text x="388">BoGSTF6</text></g>
<g id="BoGSTF5" transform="rotate(45.5)"><use href="#mk" x="378" class="o"/><text x="388">BoGSTF5</text></g>
<g id="BoGSTU5" transform="rotate(48.1)"><use href="#mk" x="378" class="o"/><text x="388">BoGSTU5</text></g>
<g id="BoGSTU26" transform="rotate(50.8)"><use href="#mk" x="378" class="o"/><text x="388">BoGSTU26</text></g>
<g id="BoGSTU14" transform="rotate(53.4)"><use href="#mk" x="378" class="o"/><text x="388">BoGSTU14</text></g>
<g id="BoGSTU9" transform="rotate(56.1)"><use href="#mk" x="378" class="o"/><text x="388">BoGSTU9</text></g>
<g id="BoGSTU8" transform="rotate(58.7)"><use href="#mk" x="378" class="o"/><text x="388">BoGSTU8</text></g>
<g id="AtGSTU19" transform="rotate(61.4)"><use href="#mk" x="378" class="p"/><text x="388">AtGSTU19</text></g>
<g id="BoGSTU12" transform="rotate(64)"><use href="#mk" x="378" class="o"/><text x="388">BoGSTU12</text></g>
<g id="BoGSTU13" transform="rotate(66.7)"><use href="#mk" x="378" class="o"/><text x="388">BoGSTU13</text></g>
<g id="BoGSTU15" transform="rotate(69.4)"><use href="#mk" x="378" class="o"/><text x="388">BoGSTU15</text></g>
<g id="BoGSTU27" transform="rotate(72)"><use href="#mk" x="378" class="o"/><text x="388">BoGSTU27</text></g>
<g id="BoGSTU4" transform="rotate(74.7)"><use href="#mk" x="378" class="o"/><text x="388">BoGSTU4</text></g>
<g id="BoGSTU23" transform="rotate(77.3)"><use href="#mk" x="378" class="o"/><text x="388">BoGSTU23</text></g>
<g id="TaGSTU1A" transform="rotate(80)"><use href="#mk" x="378" class="p"/><text x="388">TaGSTU1A</text></g>
<g id="TaGSTU1B" transform="rotate(82.6)"><use href="#mk" x="378" class="p"/><text x="388">TaGSTU1B</text></g>
<g id="BoGSTU7" transform="rotate(85.3)"><use href="#mk" x="378" class="o"/><text x="388">BoGSTU7</text></g>
<g id="BoGSTU21" transform="rotate(87.9)"><use href="#mk" x="378" class="o"/><text x="388">BoGSTU21</text></g>
<g id="BoGSTU22" transform="rotate(-89.4)"><use href="#mk" x="-378" class="o"/><text x="-388" class="r">BoGSTU22</text></g>
<g id="BoGSTU16" transform="rotate(-86.7)"><use href="#mk" x="-378" class="o"/><text x="-388" class="r">BoGSTU16</text></g>
<g id="AtGSTU5" transform="rotate(-84.1)"><use href="#mk" x="-378" class="p"/><text x="-388" class="r">AtGSTU5</text></g>
<g id="BoGSTU20" transform="rotate(-81.4)"><use href="#mk" x="-378" class="o"/><text x="-388" class="r">BoGSTU20</text></g>
<g id="BoGSTU10" transform="rotate(-78.8)"><use href="#mk" x="-378" class="o"/><text x="-388" class="r">BoGSTU10</text></g>
<g id="GmGST6" transform="rotate(-76.1)"><use href="#mk" x="-378" class="p"/><text x="-388" class="r">GmGST6</text></g>
<g id="GsGSTU19" transform="rotate(-73.4)"><use href="#mk" x="-378" class="p"/><text x="-388" class="r">GsGSTU19</text></g>
<g id="GsGSTU14" transform="rotate(-70.8)"><use href="#mk" x="-378" class="p"/><text x="-388" class="r">GsGSTU14</text></g>
<g id="GmGST15" transform="rotate(-68.1)"><use href="#mk" x="-378" class="p"/><text x="-388" class="r">GmGST15</text></g>
<g id="BoGSTU28" transform="rotate(-65.5)"><use href="#mk" x="-378" class="o"/><text x="-388" class="r">BoGSTU28</text></g>
<g id="BoGSTU11" transform="rotate(-62.8)"><use href="#mk" x="-378" class="o"/><text x="-388" class="r">BoGSTU11</text></g>
<g id="AtGSTU9" transform="rotate(-60.2)"><use href="#mk" x="-378" class="p"/><text x="-388" class="r">AtGSTU9</text></g>
<g id="HvGSTU5" transform="rotate(-57.5)"><use href="#mk" x="-378" class="p"/><text x="-388" class="r">HvGSTU5</text></g>
<g id="HvGSTU8" transform="rotate(-54.8)"><use href="#mk" x="-378" class="p"/><text x="-388" class="r">HvGSTU8</text></g>
<g id="ZmGST35" transform="rotate(-52.2)"><use href="#mk" x="-378" class="p"/><text x="-388" class="r">ZmGST35</text></g>
<g id="OsGSTU4" transform="rotate(-49.5)"><use href="#mk" x="-378" class="p"/><text x="-388" class="r">OsGSTU4</text></g>
<g id="ZmGST42" transform="rotate(-46.9)"><use href="#mk" x="-378" class="p"/><text x="-388" class="r">ZmGST42</text></g>
<g id="HvGSTU19" transform="rotate(-44.2)"><use href="#mk" x="-378" class="p"/><text x="-388" class="r">HvGSTU19</text></g>
<g id="OsGSTU3" transform="rotate(-41.5)"><use href="#mk" x="-378" class="p"/><text x="-388" class="r">OsGSTU3</text></g>
<g id="ZmGST22" transform="rotate(-38.9)"><use href="#mk" x="-378" class="p"/><text x="-388" class="r">ZmGST22</text></g>
<g id="OsGSTU13" transform="rotate(-36.2)"><use href="#mk" x="-378" class="p"/><text x="-388" class="r">OsGSTU13</text></g>
<g id="BoGSTU1" transform="rotate(-33.6)"><use href="#mk" x="-378" class="o"/><text x="-388" class="r">BoGSTU1</text></g>
<g id="BoGSTU2" transform="rotate(-30.9)"><use href="#mk" x="-378" class="o"/><text x="-388" class="r">BoGSTU2</text></g>
<g id="BoGSTU24" transform="rotate(-28.3)"><use href="#mk" x="-378" class="o"/><text x="-388" class="r">BoGSTU24</text></g>
<g id="BoGSTU25" transform="rotate(-25.6)"><use href="#mk" x="-378" class="o"/><text x="-388" class="r">BoGSTU25</text></g>
<g id="BoGSTU17" transform="rotate(-22.9)"><use href="#mk" x="-378" class="o"/><text x="-388" class="r">BoGSTU17</text></g>
<g id="BoGSTU6" transform="rotate(-20.3)"><use href="#mk" x="-378" class="o"/><text x="-388" class="r">BoGSTU6</text></g>
<g id="BoGSTU3" transform="rotate(-17.6)"><use href="#mk" x="-378" class="o"/><text x="-388" class="r">BoGSTU3</text></g>
<g id="BoGSTU18" transform="rotate(-15)"><use href="#mk" x="-378" class="o"/><text x="-388" class="r">BoGSTU18</text></g>
<g id="BoGSTU19" transform="rotate(-12.3)"><use href="#mk" x="-378" class="o"/><text x="-388" class="r">BoGSTU19</text></g>
<g id="BoDHAR1" transform="rotate(-9.7)"><use href="#mk" x="-378" class="o"/><text x="-388" class="r">BoDHAR1</text></g>
<g id="HvDHAR1" transform="rotate(-7)"><use href="#mk" x="-378" class="p"/><text x="-388" class="r">HvDHAR1</text></g>
<g id="HvDHAR2" transform="rotate(-4.4)"><use href="#mk" x="-378" class="p"/><text x="-388" class="r">HvDHAR2</text></g>
<g id="OsDHAR1" transform="rotate(-1.7)"><use href="#mk" x="-378" class="p"/><text x="-388" class="r">OsDHAR1</text></g>
<g id="BoDHAR4" transform="rotate(0.9)"><use href="#mk" x="-378" class="o"/><text x="-388" class="r">BoDHAR4</text></g>
<g id="AtDHAR2" transform="rotate(3.6)"><use href="#mk" x="-378" class="p"/><text x="-388" class="r">AtDHAR2</text></g>
<g id="BoDHAR3" transform="rotate(6.3)"><use href="#mk" x="-378" class="o"/><text x="-388" class="r">BoDHAR3</text></g>
<g id="BoDHAR2" transform="rotate(8.9)"><use href="#mk" x="-378" class="o"/><text x="-388" class="r">BoDHAR2</text></g>
<g id="AtDHAR1" transform="rotate(11.6)"><use href="#mk" x="-378" class="p"/><text x="-388" class="r">AtDHAR1</text></g>
<g id="BoGHR1" transform="rotate(14.2)"><use href="#mk" x="-378" class="o"/><text x="-388" class="r">BoGHR1</text></g>
<g id="AtGHR4" transform="rotate(16.9)"><use href="#mk" x="-378" class="p"/><text x="-388" class="r">AtGHR4</text></g>
<g id="BoGHR2" transform="rotate(19.5)"><use href="#mk" x="-378" class="o"/><text x="-388" class="r">BoGHR2</text></g>
<g id="AtGHR3" transform="rotate(22.2)"><use href="#mk" x="-378" class="p"/><text x="-388" class="r">AtGHR3</text></g>
<g id="BoGHR4-b" transform="rotate(24.9)"><use href="#mk" x="-378" class="o"/><text x="-388" class="r">BoGHR4</text></g>
<g id="AtGHR1" transform="rotate(27.5)"><use href="#mk" x="-378" class="p"/><text x="-388" class="r">AtGHR1</text></g>
<g id="AtGHR2" transform="rotate(30.2)"><use href="#mk" x="-378" class="p"/><text x="-388" class="r">AtGHR2</text></g>
<g id="BoGHR3" transform="rotate(32.8)"><use href="#mk" x="-378" class="o"/><text x="-388" class="r">BoGHR3</text></g>
<g id="BoGHR4" transform="rotate(35.5)"><use href="#mk" x="-378" class="o"/><text x="-388" class="r">BoGHR4</text></g>
<g id="BoGSTL1" transform="rotate(38.1)"><use href="#mk" x="-378" class="o"/><text x="-388" class="r">BoGSTL1</text></g>
<g id="AtGSTL1" transform="rotate(40.8)"><use href="#mk" x="-378" class="p"/><text x="-388" class="r">AtGSTL1</text></g>
<g id="BoGSTL2" transform="rotate(43.4)"><use href="#mk" x="-378" class="o"/><text x="-388" class="r">BoGSTL2</text></g>
<g id="HvGSTL1" transform="rotate(46.1)"><use href="#mk" x="-378" class="p"/><text x="-388" class="r">HvGSTL1</text></g>
<g id="OsGSTL1" transform="rotate(48.8)"><use href="#mk" x="-378" class="p"/><text x="-388" class="r">OsGSTL1</text></g>
<g id="BoGSTL3" transform="rotate(51.4)"><use href="#mk" x="-378" class="o"/><text x="-388" class="r">BoGSTL3</text></g>
<g id="AtGSTL2" transform="rotate(54.1)"><use href="#mk" x="-378" class="p"/><text x="-388" class="r">AtGSTL2</text></g>
<g id="BoGST2N-1" transform="rotate(56.7)"><use href="#mk" x="-378" class="o"/><text x="-388" class="r">BoGST2N-1</text></g>
<g id="BoGST2N-2" transform="rotate(59.4)"><use href="#mk" x="-378" class="o"/><text x="-388" class="r">BoGST2N-2</text></g>
<g id="AtGSSTN2-1" transform="rotate(62)"><use href="#mk" x="-378" class="p"/><text x="-388" class="r">AtGSSTN2-1</text></g>
<g id="HvmPGES2" transform="rotate(64.7)"><use href="#mk" x="-378" class="p"/><text x="-388" class="r">HvmPGES2</text></g>
<g id="BompPGES2-1" transform="rotate(67.3)"><use href="#mk" x="-378" class="o"/><text x="-388" class="r">BompPGES2-1</text></g>
<g id="AtmPGES2" transform="rotate(70)"><use href="#mk" x="-378" class="p"/><text x="-388" class="r">AtmPGES2</text></g>
</g>
</g>
<g id="legend" class="lg">
<rect x="916" y="563" width="17" height="17" fill="#FF00FF"/><text x="947" y="579">Tau</text>
<rect x="916" y="594" width="17" height="17" fill="#1E1EF0"/><text x="947" y="610">Phi</text>
<rect x="916" y="626" width="17" height="17" fill="#FF0000"/><text x="947" y="642">Theta</text>
<rect x="916" y="657" width="17" height="17" fill="#FF0A80"/><text x="947" y="673">Zeta</text>
<rect x="916" y="689" width="17" height="17" fill="#00FFFF"/><text x="947" y="705">Lambda</text>
<rect x="916" y="720" width="17" height="17" fill="#008B8B"/><text x="947" y="736">DHAR</text>
<rect x="916" y="753" width="17" height="17" fill="#C87878"/><text x="947" y="769">TCHQD</text>
<rect x="916" y="785" width="17" height="17" fill="#00FF00"/><text x="947" y="801">EF1G</text>
<rect x="916" y="817" width="17" height="17" fill="#007A00"/><text x="947" y="833">GHR</text>
<rect x="916" y="849" width="17" height="17" fill="#1C1C8C"/><text x="947" y="865">GST2N</text>
<rect x="916" y="882" width="17" height="17" fill="#FFA347"/><text x="947" y="898">mPGES2</text>
</g>
</svg>
